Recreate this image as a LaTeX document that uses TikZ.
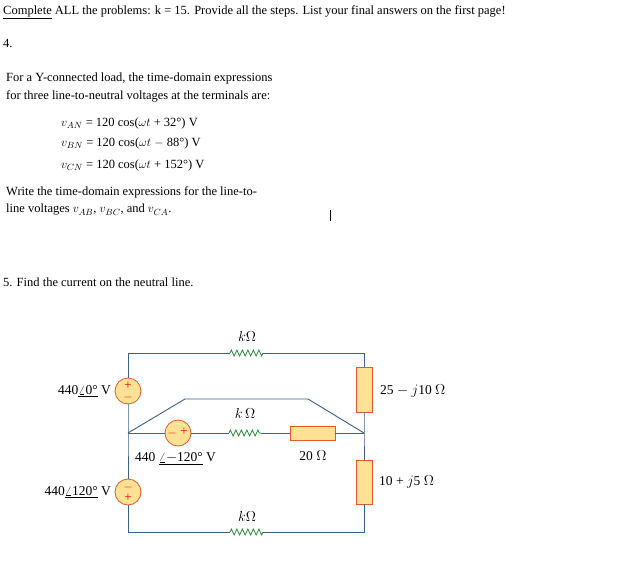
\documentclass[tikz,border=0pt]{standalone}
\usepackage{fontspec}
\setmainfont{Liberation Serif}
\usetikzlibrary{decorations.pathmorphing}
\definecolor{wire}{RGB}{60,95,140}
\definecolor{rgreen}{RGB}{40,140,60}
\definecolor{bfill}{RGB}{253,226,150}
\definecolor{bdraw}{RGB}{225,90,40}
\definecolor{sfill}{RGB}{253,226,150}
\begin{document}
\begin{tikzpicture}[x=1pt,y=-1pt,
  txt/.style={inner sep=0pt,anchor=west,font=\fontsize{12.5}{14}\selectfont},
  ptxt/.style={inner sep=0pt,anchor=west,font=\fontsize{12.5}{14}\selectfont},
  lab/.style={inner sep=0pt,font=\fontsize{13.5}{15}\selectfont},
  sg/.style={inner sep=0pt,text=red,font=\fontsize{13}{13}\selectfont},
  w/.style={draw=wire,line width=0.9pt},
  res/.style={draw=rgreen,line width=0.8pt,decorate,decoration={zigzag,segment length=5.5pt,amplitude=3pt}},
  box/.style={draw=bdraw,fill=bfill,line width=0.8pt,inner sep=0pt,minimum width=#1},
  src/.style={circle,draw=bdraw,fill=sfill,line width=0.8pt,minimum size=26pt,inner sep=0pt}]
\useasboundingbox (0,0) rectangle (622,563);
\fill[white] (0,0) rectangle (622,563);
% text
\node[txt] (h) at (3,12) {\underline{Complete} ALL the problems: k = 15. Provide all the steps. List your final answers on the first page!};
\node[txt] (n4) at (3,43) {4.};
\node[ptxt] (p1) at (6,78) {For a Y-connected load, the time-domain expressions};
\node[ptxt] (p2) at (6,96) {for three line-to-neutral voltages at the terminals are:};
\node[ptxt] (e1) at (61,123) {$v_{AN}$ = 120 cos($\omega t$ + 32°) V};
\node[ptxt] (e2) at (61,143) {$v_{BN}$ = 120 cos($\omega t$ $-$ 88°) V};
\node[ptxt] (e3) at (61,165) {$v_{CN}$ = 120 cos($\omega t$ + 152°) V};
\node[ptxt] (p3) at (6,192) {Write the time-domain expressions for the line-to-};
\node[ptxt] (p4) at (6,210) {line voltages $v_{AB}$, $v_{BC}$, and $v_{CA}$.};
\draw[line width=0.8pt] (330,210) -- (330,221);
\node[txt] (n5) at (3,282) {5. Find the current on the neutral line.};
% circuit coords
\coordinate (tl) at (128,353); \coordinate (tr) at (364,353);
\coordinate (ml) at (128,433); \coordinate (mr) at (364,433);
\coordinate (bl) at (128,532); \coordinate (br) at (364,532);
\coordinate (u1) at (185,399); \coordinate (u2) at (308,399);
\node[src] (s1) at (128,391) {};
\node[src] (s2) at (128,492) {};
\node[src] (s3) at (178,433) {};
\node[box=16pt,minimum height=45pt] (z1) at (364,389.5) {};
\node[box=16pt,minimum height=44pt] (z2) at (364,482) {};
\node[box=45pt,minimum height=14pt] (z3) at (312.5,433) {};
\coordinate (r1a) at (230,353); \coordinate (r1b) at (263,353);
\coordinate (r2a) at (229,433); \coordinate (r2b) at (261,433);
\coordinate (r3a) at (230,532); \coordinate (r3b) at (263,532);
\draw[w] (s1) -- (tl) -- (r1a); \draw[w] (r1b) -- (tr) -- (z1);
\draw[w] (s1) -- (ml) -- (s2);
\draw[w] (s2) -- (bl) -- (r3a); \draw[w] (r3b) -- (br) -- (z2);
\draw[w] (z1) -- (mr) -- (z2);
\draw[w] (ml) -- (s3); \draw[w] (s3) -- (r2a); \draw[w] (r2b) -- (z3); \draw[w] (z3) -- (mr);
\draw[w] (ml) -- (u1) -- (u2) -- (mr);
\draw[res] (r1a) -- (r1b); \draw[res] (r2a) -- (r2b); \draw[res] (r3a) -- (r3b);
% signs
\node[sg] (s1p) at (128,386) {+}; \node[sg] (s1m) at (128,397) {$-$};
\node[sg] (s2m) at (128,487) {$-$}; \node[sg] (s2p) at (128,498) {+};
\node[sg] (s3m) at (172,433) {$-$}; \node[sg] (s3p) at (184,432) {+};
% labels
\node[lab] (l1) at (247,336) {$k\Omega$};
\node[lab] (l2) at (245,413) {$k\,\Omega$};
\node[lab] (l3) at (247,516) {$k\Omega$};
\node[lab,anchor=west] (l4) at (380,391) {25 $-$ $j$10 $\Omega$};
\node[lab,anchor=west] (l5) at (379,482) {10 + $j$5 $\Omega$};
\node[lab] (l6) at (313,456) {20 $\Omega$};
\node[lab,anchor=west] (l7) at (135,459) {440 \underline{$\angle$$-$120°} V};
\node[lab,anchor=east] (l8) at (111,391) {440\underline{$\angle$0°} V};
\node[lab,anchor=east] (l9) at (111,492) {440\underline{$\angle$120°} V};
\end{tikzpicture}
\end{document}
